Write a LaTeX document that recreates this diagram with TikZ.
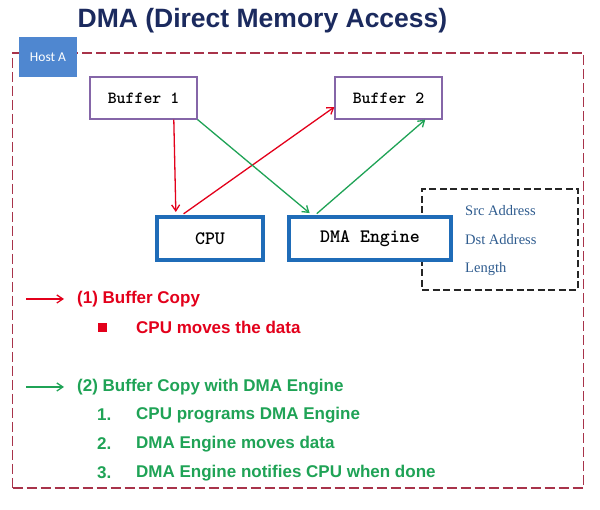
\documentclass[tikz,border=0pt]{standalone}
\usepackage{fontspec}
\setmainfont{Liberation Sans}
\newfontfamily\serifft{Liberation Serif}
\newfontfamily\hostft{Carlito}
\usetikzlibrary{arrows.meta,calc}
\definecolor{titlec}{HTML}{1B2A5E}
\definecolor{framec}{HTML}{A8334A}
\definecolor{hostc}{HTML}{4F87D0}
\definecolor{bufc}{HTML}{8566A8}
\definecolor{boxc}{HTML}{1F6CB8}
\definecolor{regc}{HTML}{2F5C8F}
\definecolor{redc}{HTML}{E3001B}
\definecolor{greenc}{HTML}{1FA356}
\tikzset{
  bufbox/.style={draw=bufc, fill=white, line width=1.2pt, minimum width=107pt, minimum height=42pt, inner sep=0pt, font=\ttfamily\bfseries\fontsize{17}{17}\selectfont},
  unitbox/.style={draw=boxc, fill=white, line width=4pt, minimum height=43pt, inner sep=0pt, font=\ttfamily\bfseries\fontsize{19}{19}\selectfont},
  redarr/.style={draw=redc, line width=1.3pt, -{Straight Barb[length=6pt,width=8pt]}},
  greenarr/.style={draw=greenc, line width=1.3pt, -{Straight Barb[length=6pt,width=8pt]}},
  legtext/.style={anchor=west, inner sep=0pt, font=\bfseries\fontsize{17}{17}\selectfont},
  regtext/.style={anchor=west, inner sep=0pt, text=regc, font=\serifft\fontsize{14.5}{14.5}\selectfont}
}
\begin{document}
\begin{tikzpicture}[x=1pt,y=-1pt]
\useasboundingbox[fill=white] (0,0) rectangle (600,510);
% title
\node[inner sep=0pt, text=titlec, font=\bfseries\fontsize{26.5}{26.5}\selectfont] (title) at (262.5,21) {DMA (Direct Memory Access)};
% host frame
\node[draw=framec, dashed, dash pattern=on 10pt off 4pt, line width=1.4pt, minimum width=571pt, minimum height=435pt, inner sep=0pt] (host) at (298,270.5) {};
\node[fill=hostc, minimum width=58pt, minimum height=40pt, inner sep=0pt, text=white, font=\hostft\fontsize{13.5}{13.5}\selectfont] (hostlbl) at (48,57) {Host A};
% registers (drawn first, the DMA box covers its left edge)
\node[draw=black!85, dashed, dash pattern=on 7pt off 3.5pt, line width=1.3pt, minimum width=156pt, minimum height=101pt, inner sep=0pt] (regs) at (500,239.5) {};
\node[regtext] (src) at (465,211) {Src Address};
\node[regtext] (dst) at (465,240) {Dst Address};
\node[regtext] (len) at (465,269) {Length};
% buffers
\node[bufbox] (b1) at (143.5,98) {Buffer 1};
\node[bufbox] (b2) at (388.5,98) {Buffer 2};
% units
\node[unitbox, minimum width=106pt] (cpu) at (210,238.5) {CPU};
\node[unitbox, minimum width=162pt] (dma) at (370,238.5) {DMA Engine};
% connectors
\draw[redarr, shorten >=3pt] ($(b1.south west)!0.78!(b1.south east)$) -- ($(cpu.north west)!0.19!(cpu.north east)$);
\draw[redarr, shorten <=2pt] ($(cpu.north west)!0.245!(cpu.north east)$) -- ($(b2.west)+(0,9)$);
\draw[greenarr, shorten >=3pt] (b1.south east) -- ($(dma.north west)!0.15!(dma.north east)$);
\draw[greenarr, shorten <=2pt] ($(dma.north west)!0.17!(dma.north east)$) -- ($(b2.south west)!0.84!(b2.south east)$);
% legend
\coordinate (ra1) at (26,299); \coordinate (ra2) at (64,299);
\draw[redarr] (ra1) -- (ra2);
\node[legtext, text=redc] (l1) at (77,299) {(1) Buffer Copy};
\node[fill=redc, minimum size=9pt, inner sep=0pt] (sq) at (102.5,327.5) {};
\node[legtext, text=redc] (l1a) at (136,327) {CPU moves the data};
\coordinate (ga1) at (26,387); \coordinate (ga2) at (64,387);
\draw[greenarr] (ga1) -- (ga2);
\node[legtext, text=greenc] (l2) at (77,387) {(2) Buffer Copy with DMA Engine};
\node[legtext, text=greenc] (n1) at (97,415) {1.};
\node[legtext, text=greenc] (l2a) at (136,415) {CPU programs DMA Engine};
\node[legtext, text=greenc] (n2) at (97,444) {2.};
\node[legtext, text=greenc] (l2b) at (136,444) {DMA Engine moves data};
\node[legtext, text=greenc] (n3) at (97,473) {3.};
\node[legtext, text=greenc] (l2c) at (136,473) {DMA Engine notifies CPU when done};
\end{tikzpicture}
\end{document}
